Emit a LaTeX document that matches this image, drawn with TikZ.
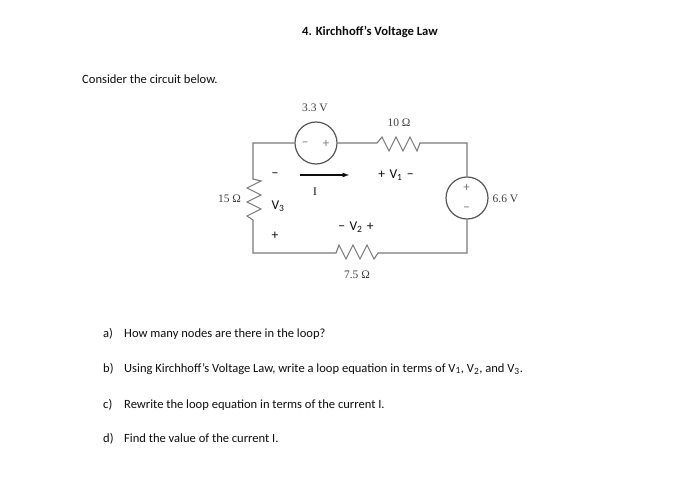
\documentclass[tikz,border=0pt]{standalone}
\usepackage{fontspec}
\setmainfont{Carlito}
\newfontfamily\serifc{Liberation Serif}
\definecolor{wirec}{gray}{0.48}
\definecolor{inkc}{gray}{0.05}
\definecolor{labc}{gray}{0.25}
\newcommand{\subn}[1]{\textsubscript{\fontsize{9.5}{9.5}\selectfont #1}}
\newcommand{\lbl}[1]{\makebox[21pt][l]{#1}}
\newcommand{\gapw}{\hspace{4.5pt}}
\tikzset{
  wire/.style={draw=wirec,line width=1.1pt},
  srcc/.style={circle,draw=inkc!70!white,line width=1.2pt,fill=white,minimum size=42pt,inner sep=0pt},
  body/.style={anchor=west,inner sep=0pt,font=\fontsize{12.55}{15}\selectfont,text=inkc},
  vlab/.style={inner sep=0pt,font=\fontsize{13.5}{15}\selectfont,text=inkc},
  clab/.style={inner sep=0pt,font=\fontsize{11.5}{13}\selectfont\serifc,text=labc},
  sign/.style={inner sep=0pt,font=\fontsize{13}{14}\selectfont,text=wirec}
}
\begin{document}
\begin{tikzpicture}[x=1pt,y=-1pt]
\useasboundingbox (0,0) rectangle (700,489);
\node[body,font=\fontsize{12.65}{15}\selectfont\bfseries] (title) at (302,32) {4. Kirchhoff’s Voltage Law};
\node[body] (intro) at (82,79) {Consider the circuit below.};
% circuit nodes
\coordinate (tl) at (253,143);
\coordinate (tr) at (467,143);
\coordinate (bl) at (253,253);
\coordinate (br) at (467,253);
\node[srcc] (s1) at (316,143) {};
\node[srcc] (s2) at (467,198) {};
\coordinate (r1a) at (377,143);
\coordinate (r1b) at (420,143);
\coordinate (r2a) at (336,253);
\coordinate (r2b) at (378,253);
\coordinate (r3a) at (253,179);
\coordinate (r3b) at (253,220);
\draw[wire] (s1.east) -- (r1a) -- ++(5,-6) -- ++(7,14) -- ++(7,-14) -- ++(7,14) -- ++(7,-14) -- ++(7,14) -- (r1b) -- (tr) -- (s2.north);
\draw[wire] (s2.south) -- (br) -- (r2b) -- ++(-4,6) -- ++(-7,-14) -- ++(-7,14) -- ++(-7,-14) -- ++(-7,14) -- ++(-7,-14) -- (r2a) -- (bl) -- (r3b) -- ++(-6,-4) -- ++(14,-7) -- ++(-14,-7) -- ++(14,-7) -- ++(-14,-7) -- ++(14,-7) -- (r3a) -- (tl) -- (s1.west);
\node[sign] at (305,144) {−};
\node[sign] (p1) at (326,144) {+};
\node[sign] at (466.5,188) {+};
\node[sign] at (466.5,209) {−};
% arrow
\coordinate (ia) at (300,175);
\coordinate (ib) at (349,175);
\draw[-latex,line width=1.2pt,inkc] (ia) -- (ib);
% labels
\node[clab] (l33) at (315,108) {3.3 V};
\node[clab] (l10) at (399,123) {10 Ω};
\node[clab] (l66) at (505.5,199) {6.6 V};
\node[clab] (l75) at (357,275) {7.5 Ω};
\node[clab] (l15) at (229.5,199) {15 Ω};
\node[clab,text=inkc] (li) at (315,192) {I};
\node[vlab] (v1) at (396,175) {+\gapw V\subn{1}\gapw −};
\node[vlab] (v2) at (356,227) {−\gapw V\subn{2}\gapw +};
\node[vlab] (v3) at (278,206) {V\subn{3}};
\node[vlab] (mn) at (275,175) {−};
\node[vlab] (pl) at (275,236) {+};
% questions
\node[body] (qa) at (103,333.5) {\lbl{a)}How many nodes are there in the loop?};
\node[body] (qb) at (103,368.5) {\lbl{b)}Using Kirchhoff’s Voltage Law, write a loop equation in terms of V\subn{1}, V\subn{2}, and V\subn{3}.};
\node[body] (qc) at (103,404.5) {\lbl{c)}Rewrite the loop equation in terms of the current I.};
\node[body] (qd) at (103,438.5) {\lbl{d)}Find the value of the current I.};
\end{tikzpicture}
\end{document}
